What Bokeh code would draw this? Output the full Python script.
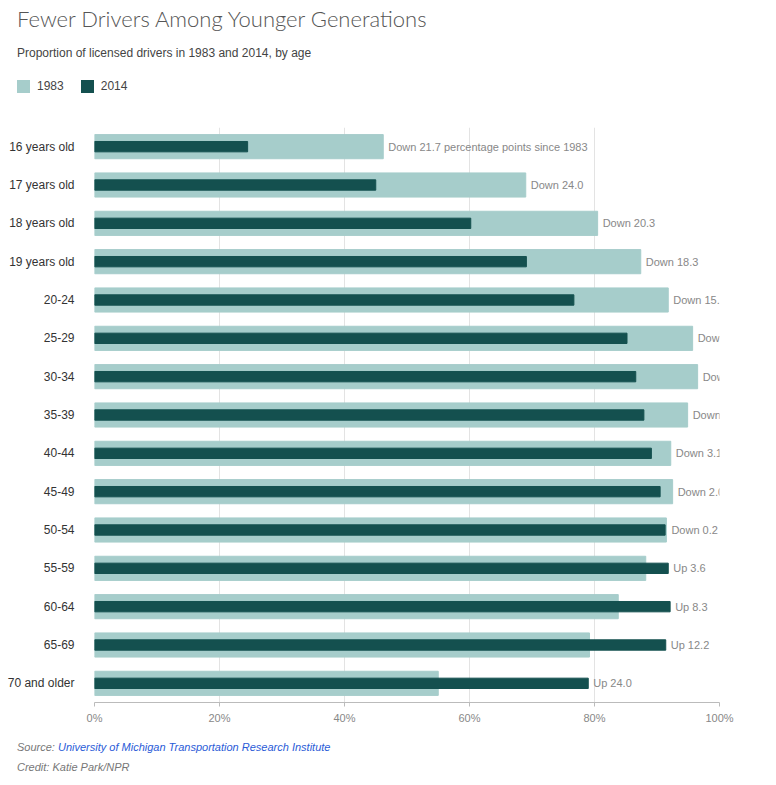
from bokeh.plotting import figure
from bokeh.models import Div, FactorRange, ColumnDataSource, FixedTicker, Range1d, CustomJSTickFormatter
from bokeh.layouts import column
from bokeh.embed import file_html
from bokeh.resources import INLINE

ages = ["16 years old", "17 years old", "18 years old", "19 years old", "20-24", "25-29", "30-34",
        "35-39", "40-44", "45-49", "50-54", "55-59", "60-64", "65-69", "70 and older"]
v1983 = [46.2, 69.0, 80.5, 87.4, 91.8, 95.7, 96.5, 94.9, 92.2, 92.5, 91.5, 88.2, 83.8, 79.2, 55.0]
v2014 = [24.5, 45.0, 60.2, 69.1, 76.7, 85.2, 86.6, 87.9, 89.1, 90.5, 91.3, 91.8, 92.1, 91.4, 79.0]
notes = ["Down 21.7 percentage points since 1983", "Down 24.0", "Down 20.3", "Down 18.3", "Down 15.1",
         "Down 10.5", "Down 9.9", "Down 7.0", "Down 3.1", "Down 2.0", "Down 0.2", "Up 3.6", "Up 8.3",
         "Up 12.2", "Up 24.0"]

FONT = "Liberation Sans"
header = Div(width=740, height=100, styles={"font-family": FONT}, text=f"""
<div style="font-family:Lato;font-weight:300;font-size:22px;color:#555;margin:0 0 0 12px;line-height:28px;padding-top:0px">Fewer Drivers Among Younger Generations</div>
<div style="font-size:12px;color:#444;margin:12px 0 0 12px">Proportion of licensed drivers in 1983 and 2014, by age</div>
<div style="font-size:12px;color:#444;margin:16px 0 0 12px;display:flex;align-items:center">
<span style="display:inline-block;width:13px;height:13px;background:#a6cdcb;margin-right:7px"></span>1983
<span style="display:inline-block;width:13px;height:13px;background:#14504f;margin:0 7px 0 17px"></span>2014</div>
""")

src = ColumnDataSource(dict(age=ages, a=v1983, b=v2014, note=notes,
                            tx=[max(x, y) for x, y in zip(v1983, v2014)]))
p = figure(y_range=FactorRange(*reversed(ages)), x_range=Range1d(0, 100),
           frame_width=625, frame_height=575, min_border_left=94, min_border_right=31,
           min_border_top=17, min_border_bottom=30,
           output_backend="svg", toolbar_location=None)
p.hbar(y="age", right="a", left=0, height=0.63, color="#a6cdcb", source=src)
p.hbar(y="age", right="b", left=0, height=0.27, color="#14504f", source=src)
p.text(x="tx", y="age", text="note", source=src, x_offset=5, text_baseline="middle",
       text_font_size="11px", text_color="#888", text_font={"value": FONT})
p.outline_line_color = None
p.ygrid.grid_line_color = None
p.xgrid.grid_line_color = "#e3e3e3"
p.xaxis.ticker = FixedTicker(ticks=[0, 20, 40, 60, 80, 100])
p.xaxis.formatter = CustomJSTickFormatter(code="return tick + '%'")
p.xaxis.axis_line_color = "#bbb"
p.xaxis.major_tick_line_color = "#bbb"
p.xaxis.major_tick_in = 0
p.xaxis.major_tick_out = 4
p.xaxis.minor_tick_line_color = None
p.xaxis.major_label_text_font_size = "11px"
p.xaxis.major_label_text_color = "#888"
p.xaxis.major_label_text_font = FONT
p.yaxis.axis_line_color = None
p.yaxis.major_tick_line_color = None
p.yaxis.major_label_text_font_size = "12px"
p.yaxis.major_label_text_color = "#333"
p.yaxis.major_label_text_font = FONT
p.yaxis.major_label_standoff = 14

footer = Div(width=740, height=45, text=f"""
<div style="font-family:{FONT};font-size:11px;font-style:italic;color:#777;margin-left:12px;line-height:20px">
Source: <span style="color:#2a5bd7">University of Michigan Transportation Research Institute</span><br>Credit: Katie Park/NPR</div>""")

lay = column(header, p, footer, spacing=0)
open("out.html", "w").write(file_html(lay, INLINE))
